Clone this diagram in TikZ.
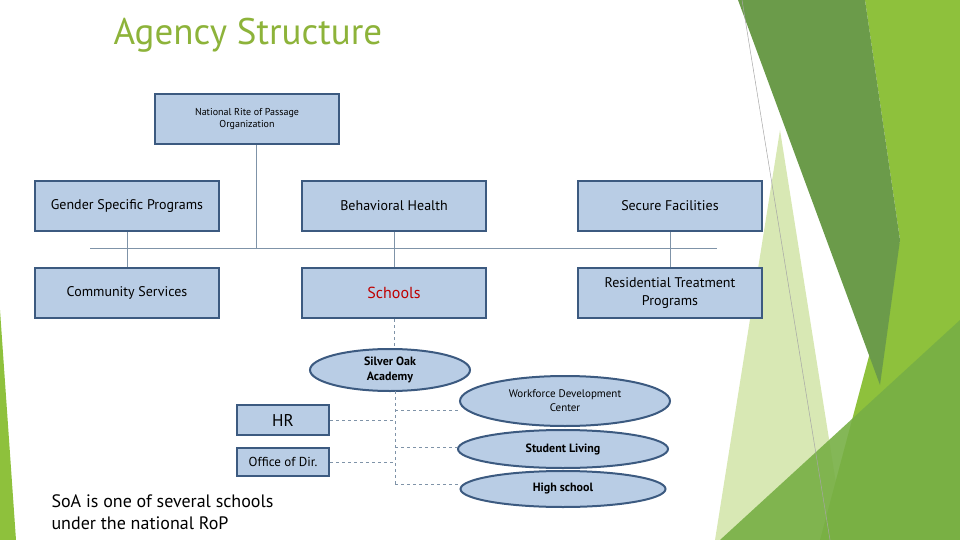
\documentclass[tikz,border=0pt]{standalone}
\usepackage{fontspec}
\setmainfont{PT Sans}
\usetikzlibrary{positioning,shapes.geometric}
\definecolor{boxfill}{HTML}{B9CDE5}
\definecolor{boxline}{HTML}{3C5A80}
\definecolor{linkgray}{HTML}{7F93A8}
\definecolor{titlegreen}{HTML}{8DB33A}
\definecolor{paleg}{HTML}{D8E8B4}
\definecolor{darkg}{HTML}{6B9B4A}
\definecolor{brightg}{HTML}{8EC13C}
\definecolor{midg}{HTML}{77AF45}
\tikzset{
  unit/.style={draw=boxline, line width=2pt, fill=boxfill, minimum width=184pt, minimum height=50pt, align=center, font=\fontsize{14}{18}\selectfont},
  small/.style={draw=boxline, line width=2pt, fill=boxfill, minimum width=92pt, inner sep=2pt, align=center},
  site/.style={ellipse, draw=boxline, line width=2pt, fill=boxfill, inner sep=0pt, align=center, font=\fontsize{12}{15}\selectfont\bfseries},
  link/.style={linkgray, line width=0.8pt},
  dlink/.style={linkgray, line width=0.8pt, dashed}
}
\begin{document}
\begin{tikzpicture}[x=1pt,y=-1pt]
    \useasboundingbox (0,0) rectangle (960,540);
    % background
    \fill[paleg] (780,130) -- (845,540) -- (715,540) -- cycle;
    \fill[brightg] (865,0) -- (960,0) -- (960,540) -- (820,540) -- (900,240) -- cycle;
    \fill[darkg] (738,0) -- (865,0) -- (900,240) -- (880,385) -- cycle;
    \fill[midg, opacity=0.9] (720,540) -- (960,320) -- (960,540) -- cycle;
    \fill[brightg] (0,310) -- (16,540) -- (0,540) -- cycle;
    \draw[gray!70, line width=0.5pt] (742,0) -- (830,540);
    % title
    \node[titlegreen, anchor=west, font=\fontsize{37}{42}\selectfont] (title) at (110,35) {Agency Structure};
    % boxes
    \node[unit, font=\fontsize{10}{12}\selectfont] (nat) at (247,119) {National Rite of Passage\\Organization};
    \node[unit] (gen) at (127,206) {Gender Specific Programs};
    \node[unit] (beh) at (394,206) {Behavioral Health};
    \node[unit] (sec) at (670,206) {Secure Facilities};
    \node[unit] (com) at (127,293) {Community Services};
    \node[unit, text=red!75!black, font=\fontsize{16}{18}\selectfont] (sch) at (394,293) {Schools};
    \node[unit] (res) at (670,293) {Residential Treatment\\Programs};
    % tree lines
    \coordinate (barL) at (90,248);
    \coordinate (barR) at (717,248);
    \draw[link] (barL) -- (barR);
    \draw[link] (nat.south -| 256,0) -- (256,248);
    \foreach \a/\b in {gen/com, beh/sch, sec/res}
        \draw[link] (\a) -- (\b);
    % Silver Oak
    \node[site, minimum width=160pt, minimum height=42pt] (soa) at (390,370) {Silver Oak\\Academy};
    \draw[dlink] (sch) -- (soa.north -| sch);
    \coordinate (trunkT) at (395,391);
    \coordinate (trunkB) at (395,486);
    \draw[dlink] (trunkT) -- (trunkB);
    \node[small, minimum height=30pt, font=\fontsize{17}{18}\selectfont] (hr) at (283,420) {HR};
    \node[small, minimum height=28pt, font=\fontsize{13}{14}\selectfont] (dir) at (283,462) {Office of Dir.};
    \node[site, minimum width=210pt, minimum height=50pt, font=\fontsize{11}{14}\selectfont\mdseries] (wdc) at (565,401) {Workforce Development\\Center};
    \node[site, minimum width=210pt, minimum height=38pt] (stl) at (563,449) {Student Living};
    \node[site, minimum width=205pt, minimum height=36pt] (hs) at (563,489) {High school};
    \draw[dlink] (hr) -- (hr -| trunkT);
    \draw[dlink] (dir) -- (dir -| trunkT);
    \foreach \n/\y in {wdc/410, stl/447, hs/484}
        \draw[dlink] (395,\y) -- (\n.west |- 0,\y);
    % note
    \node[anchor=north west, align=left, font=\fontsize{18}{22}\selectfont] (note) at (48,491) {SoA is one of several schools\\under the national RoP};
\end{tikzpicture}
\end{document}
